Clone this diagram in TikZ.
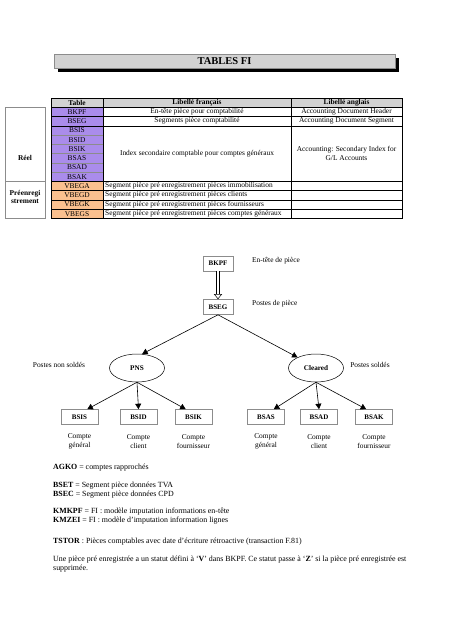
\documentclass[tikz,border=0pt]{standalone}
\usepackage{fontspec}
\setmainfont{Liberation Serif}
\usetikzlibrary{arrows.meta,shapes.geometric}
\definecolor{hdr}{RGB}{210,210,210}
\definecolor{pur}{RGB}{170,140,235}
\definecolor{ora}{RGB}{250,192,143}
\definecolor{boxgray}{RGB}{140,140,140}
\begin{document}
\begin{tikzpicture}[x=1pt,y=-1pt,
  tbl/.style={font=\fontsize{7.4}{8.2}\selectfont, inner sep=0pt},
  tblb/.style={tbl, font=\fontsize{7.4}{8.2}\selectfont\bfseries},
  tbox/.style={draw=boxgray, line width=0.6pt, minimum width=30pt, minimum height=15pt, inner sep=0pt, font=\fontsize{7}{8}\selectfont\bfseries},
  sbox/.style={draw=boxgray, line width=0.6pt, minimum width=37pt, minimum height=15pt, inner sep=0pt, font=\fontsize{7}{8}\selectfont\bfseries},
  ell/.style={draw, ellipse, line width=0.5pt, minimum width=55pt, minimum height=28pt, inner sep=0pt, font=\fontsize{7.2}{8}\selectfont\bfseries},
  lbl/.style={font=\fontsize{7.4}{9}\selectfont, inner sep=0pt, align=center},
  txt/.style={font=\fontsize{7.9}{9}\selectfont, inner sep=0pt, anchor=west},
  conn/.style={line width=0.6pt, -{Triangle[length=5.5pt,width=6pt]}},
]
\useasboundingbox (0,0) rectangle (452,640);
% title
\fill[black] (58,58) rectangle (399,72);
\draw[boxgray, fill=hdr, line width=0.5pt] (54,54) rectangle (395,68);
\node[font=\fontsize{10.5}{12}\selectfont\bfseries, inner sep=0pt] (title) at (224.5,61) {TABLES FI};
% table fills
\fill[hdr] (51,98) rectangle (402,107.25);
\foreach \i in {1,...,8} \fill[pur] (51,{98+9.25*\i}) rectangle (103,{98+9.25*(\i+1)});
\foreach \i in {9,...,12} \fill[ora] (51,{98+9.25*\i}) rectangle (103,{98+9.25*(\i+1)});
% table lines
\foreach \i in {1,2,3,9,10,11,12} \draw[line width=0.5pt] (51,{98+9.25*\i}) -- (402,{98+9.25*\i});
\foreach \i in {4,...,8} \draw[line width=0.4pt, black!45] (51,{98+9.25*\i}) -- (103,{98+9.25*\i});
\draw[line width=0.8pt] (51,98) rectangle (402,218.25);
\draw[line width=0.8pt] (103,98) -- (103,218.25);
\draw[line width=0.8pt] (291,98) -- (291,218.25);
% header
\node[tblb] (h1) at (77,102.6) {Table};
\node[tblb] (h2) at (197,102.6) {Libellé français};
\node[tblb] (h3) at (346.5,102.6) {Libellé anglais};
% table column
\foreach \i/\t in {1/BKPF,2/BSEG,3/BSIS,4/BSID,5/BSIK,6/BSAS,7/BSAD,8/BSAK,9/VBEGA,10/VBEGD,11/VBEGK,12/VBEGS}
  \node[tbl] (c\i) at (77,{98+9.25*(\i+0.5)}) {\t};
% french
\node[tbl] (f1) at (197,111.9) {En-tête pièce pour comptabilité};
\node[tbl] (f2) at (197,121.1) {Segments pièce comptabilité};
\node[tbl] (f3) at (197,153.5) {Index secondaire comptable pour comptes généraux};
\node[tbl, anchor=west] (f9) at (105,185.9) {Segment pièce pré enregistrement pièces immobilisation};
\node[tbl, anchor=west] (f10) at (105,195.1) {Segment pièce pré enregistrement pièces clients};
\node[tbl, anchor=west] (f11) at (105,204.4) {Segment pièce pré enregistrement pièces fournisseurs};
\node[tbl, anchor=west] (f12) at (105,213.6) {Segment pièce pré enregistrement pièces comptes généraux};
% english
\node[tbl] (e1) at (346.5,111.9) {Accounting Document Header};
\node[tbl] (e2) at (346.5,121.1) {Accounting Document Segment};
\node[tbl, align=center] (e3) at (346.5,153.5) {Accounting: Secondary Index for\\G/L Accounts};
% side boxes
\draw[boxgray, line width=0.5pt] (5,107.25) rectangle (45,181.25);
\draw[boxgray, line width=0.5pt] (5,181.25) rectangle (45,218.25);
\node[tblb] (reel) at (25,158) {Réel};
\node[tblb, align=center] (pre) at (25,197) {Préenregi\\strement};
% tree
\node[tbox] (bkpf) at (218,263.5) {BKPF};
\node[tbox] (bseg) at (218,307) {BSEG};
\node[lbl, anchor=west] (l1) at (252,261) {En-tête de pièce};
\node[lbl, anchor=west] (l2) at (252,304) {Postes de pièce};
\draw[line width=0.5pt, double distance=2.2pt, -{Triangle[open,length=5pt,width=8pt]}] (bkpf) -- (bseg);
\node[ell] (pns) at (137,368) {PNS};
\node[ell] (cleared) at (316,368) {Cleared};
\node[lbl] (l3) at (59,365) {Postes non soldés};
\node[lbl] (l4) at (370,365) {Postes soldés};
\draw[conn] (bseg.south) -- (pns.70);
\draw[conn] (bseg.south) -- (cleared.150);
\node[sbox] (bsis) at (79.5,417) {BSIS};
\node[sbox] (bsid) at (138.5,417) {BSID};
\node[sbox] (bsik) at (193.5,417) {BSIK};
\node[sbox] (bsas) at (266,417) {BSAS};
\node[sbox] (bsad) at (319,417) {BSAD};
\node[sbox] (bsak) at (374,417) {BSAK};
\draw[conn] (pns.south) -- (bsis.45);
\draw[conn] (pns.south) -- (bsid.north);
\draw[conn] (pns.south) -- (bsik.135);
\draw[conn] (cleared.south) -- (bsas.45);
\draw[conn] (cleared.south) -- (bsad.north);
\draw[conn] (cleared.south) -- (bsak.135);
\node[lbl] (d1) at (79.5,441.5) {Compte\\général};
\node[lbl] (d2) at (138.5,441.5) {Compte\\client};
\node[lbl] (d3) at (193.5,441.5) {Compte\\fournisseur};
\node[lbl] (d4) at (266,441.5) {Compte\\général};
\node[lbl] (d5) at (319,441.5) {Compte\\client};
\node[lbl] (d6) at (374,441.5) {Compte\\fournisseur};
% bottom text
\node[txt] (t1) at (53,468) {\textbf{AGKO} = comptes rapprochés};
\node[txt] (t2) at (53,486) {\textbf{BSET} = Segment pièce données TVA};
\node[txt] (t3) at (53,494.5) {\textbf{BSEC} = Segment pièce données CPD};
\node[txt] (t4) at (53,512) {\textbf{KMKPF} = FI : modèle imputation informations en-tête};
\node[txt] (t5) at (53,520.5) {\textbf{KMZEI} = FI : modèle d'imputation information lignes};
\node[txt] (t6) at (53,542) {\textbf{TSTOR} : Pièces comptables avec date d'écriture rétroactive (transaction F.81)};
\node[txt] (t7) at (53,560) {Une pièce pré enregistrée a un statut défini à `\textbf{V}' dans BKPF. Ce statut passe à `\textbf{Z}' si la pièce pré enregistrée est};
\node[txt] (t8) at (53,569) {supprimée.};
\end{tikzpicture}
\end{document}
